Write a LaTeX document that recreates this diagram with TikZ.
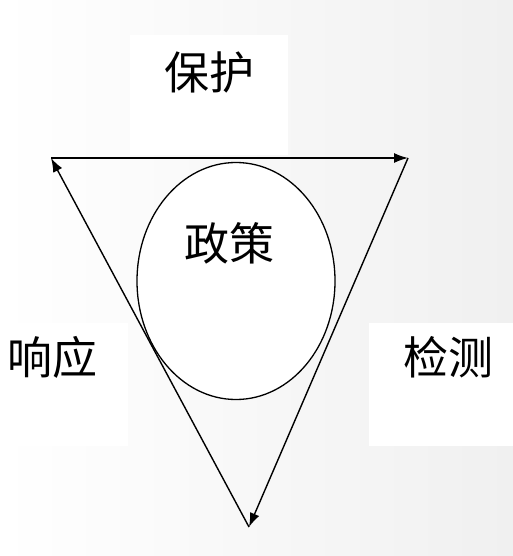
\documentclass[tikz,border=0pt]{standalone}
\usepackage{fontspec}
\newfontfamily\cjk{Noto Sans CJK SC}
\usetikzlibrary{
  arrows.meta,
  positioning,
  shapes.geometric,
}
\tikzstyle{cycle} = [
  -{Latex[length=14pt,width=10pt]},
  line width=1.4pt,
  black,
]
\tikzstyle{patch} = [
  rectangle,
  fill=white,
  inner sep=0pt,
]
\tikzstyle{word} = [
  inner sep=0pt,
  font=\cjk\fontsize{45}{50}\selectfont,
]
\definecolor{backgray}{RGB}{240, 240, 240}

\begin{document}
\begin{tikzpicture}[x=1pt,y=-1pt]
      \useasboundingbox (0,0) rectangle (513,556);
      \shade[left color=white,right color=backgray] (0,0) rectangle (513,556);

      % white patches behind the labels
      \node[patch,minimum width=158pt,minimum height=120pt] (protbox) at (209,95)  {};
      \node[patch,minimum width=128pt,minimum height=123pt] (respbox) at (64,384)  {};
      \node[patch,minimum width=145pt,minimum height=123pt] (detbox)  at (441,384) {};

      \node[word] (protect) at (209,72)  {保护};
      \node[word] (respond) at (52,357)  {响应};
      \node[word] (detect)  at (448,357) {检测};

      \node[draw,ellipse,line width=1.3pt,fill=white,minimum width=198pt,minimum height=237pt,inner sep=0pt] (policy) at (236,281) {};
      \node[word] (policytext) at (229,243) {政策};

      \coordinate (topleft)  at (51,158);
      \coordinate (topright) at (408,158);
      \coordinate (bottom)   at (249,527);

      \draw[cycle] (topleft)  -- (topright);
      \draw[cycle] (topright) -- (bottom);
      \draw[cycle] (bottom)   -- (topleft);
    \end{tikzpicture}
\end{document}
